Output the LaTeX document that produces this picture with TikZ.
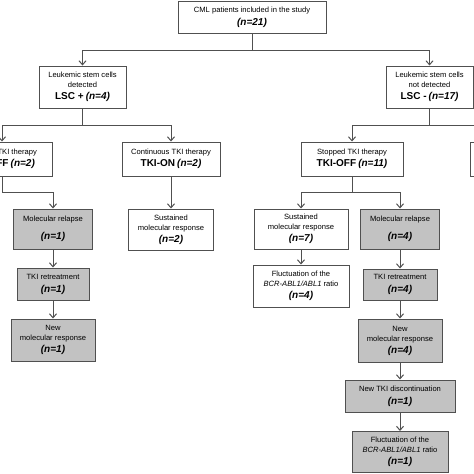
\documentclass[tikz,border=0pt]{standalone}
\usepackage{fontspec}
\setmainfont{Liberation Sans}
\usetikzlibrary{arrows.meta}
\definecolor{edge}{HTML}{505050}
\definecolor{boxgrey}{HTML}{C2C2C2}
\newcommand{\nlab}[1]{{\fontsize{10}{12}\selectfont\bfseries\itshape(#1)}}
\newcommand{\blab}[1]{{\fontsize{10}{12}\selectfont\bfseries #1}}
\begin{document}
\begin{tikzpicture}[x=1pt,y=-1pt,
	box/.style={draw=edge,line width=1pt,fill=white,align=center,inner sep=0pt,
		font=\fontsize{7.6}{10}\selectfont},
	greybox/.style={box,fill=boxgrey},
	link/.style={draw=edge,line width=1pt,-{Straight Barb[length=4pt,width=7pt]}}]
	\useasboundingbox (0,0) rectangle (474,474);
	\clip (0,0) rectangle (474,474);
	% top level
	\node[box,minimum width=148,minimum height=32] (cml) at (252,17) {CML patients included in the study\\[3pt]\nlab{n=21}};
	\node[box,minimum width=87,minimum height=42] (lscpos) at (82.5,87) {Leukemic stem cells\\detected\\[2pt]\blab{LSC +} \nlab{n=4}};
	\node[box,minimum width=87,minimum height=42] (lscneg) at (429.5,87) {Leukemic stem cells\\not detected\\[2pt]\blab{LSC -} \nlab{n=17}};
	% therapy level
	\node[box,minimum width=100,minimum height=34] (offL) at (2,159) {Stopped TKI therapy\\[2pt]\blab{TKI-OFF} \nlab{n=2}};
	\node[box,minimum width=98,minimum height=34] (onL) at (171,159) {Continuous TKI therapy\\[2pt]\blab{TKI-ON} \nlab{n=2}};
	\node[box,minimum width=102,minimum height=34] (offR) at (352,159) {Stopped TKI therapy\\[2pt]\blab{TKI-OFF} \nlab{n=11}};
	\node[box,minimum width=80,minimum height=34] (onR) at (510,159) {};
	% LSC+ branch
	\node[greybox,minimum width=79,minimum height=40] (relL) at (53,229) {Molecular relapse\\[8pt]\nlab{n=1}};
	\node[greybox,minimum width=72,minimum height=32] (retL) at (53,284) {TKI retreatment\\[3pt]\nlab{n=1}};
	\node[greybox,minimum width=84,minimum height=42] (newL) at (53,340) {New\\molecular response\\[2pt]\nlab{n=1}};
	\node[box,minimum width=85,minimum height=41] (susM) at (171,229.5) {Sustained\\molecular response\\[2pt]\nlab{n=2}};
	% LSC- branch
	\node[box,minimum width=94,minimum height=40] (susR) at (301,229) {Sustained\\molecular response\\[2pt]\nlab{n=7}};
	\node[box,minimum width=96,minimum height=42] (fluR) at (301,286) {Fluctuation of the\\\textit{BCR-ABL1/ABL1} ratio\\[2pt]\nlab{n=4}};
	\node[greybox,minimum width=79,minimum height=40] (relR) at (400,229) {Molecular relapse\\[8pt]\nlab{n=4}};
	\node[greybox,minimum width=74,minimum height=31] (retR) at (400,284.5) {TKI retreatment\\[3pt]\nlab{n=4}};
	\node[greybox,minimum width=84,minimum height=43] (newR) at (400,340.5) {New\\molecular response\\[2pt]\nlab{n=4}};
	\node[greybox,minimum width=110,minimum height=32] (discR) at (400,396) {New TKI discontinuation\\[3pt]\nlab{n=1}};
	\node[greybox,minimum width=96,minimum height=41] (fluG) at (400,452) {Fluctuation of the\\\textit{BCR-ABL1/ABL1} ratio\\[2pt]\nlab{n=1}};
	% connectors
	\draw[link] (cml.south) -- ++(0,17) -| (lscpos.north);
	\draw[link] (cml.south) -- ++(0,17) -| (lscneg.north);
	\draw[link] (lscpos.south) -- ++(0,17) -| (offL.north);
	\draw[link] (lscpos.south) -- ++(0,17) -| (onL.north);
	\draw[link] (lscneg.south) -- ++(0,17) -| (offR.north);
	\draw[link] (lscneg.south) -- ++(0,17) -| (onR.north);
	\draw[link] (offL.south) -- ++(0,16) -| (relL.north);
	\draw[link] (relL) -- (retL);
	\draw[link] (retL) -- (newL);
	\draw[link] (onL) -- (susM);
	\draw[link] (offR.south) -- ++(0,16) -| (susR.north);
	\draw[link] (offR.south) -- ++(0,16) -| (relR.north);
	\draw[link] (susR) -- (fluR);
	\draw[link] (relR) -- (retR);
	\draw[link] (retR) -- (newR);
	\draw[link] (newR) -- (discR);
	\draw[link] (discR) -- (fluG);
\end{tikzpicture}
\end{document}
